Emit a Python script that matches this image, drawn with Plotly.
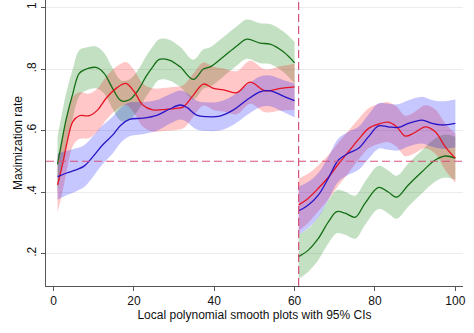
import plotly.graph_objects as go

# ---- data ----
# left segment (before cutoff)
green_l_x = [1, 2, 3.1, 4.8, 6.4, 8.1, 10.6, 12.6, 14.7, 16.8, 18.9, 21, 23, 24.7, 26.3, 28.8, 31.5, 34.8, 37.3, 39, 42.3, 45.6, 48.1, 51.4, 53.9, 57.2, 60]
green_l_y = [.49, .56, .634, .72, .786, .80, .805, .786, .737, .697, .70, .73, .775, .807, .831, .829, .807, .766, .80, .807, .84, .875, .897, .884, .881, .856, .82]
green_l_h = [.09, .088, .085, .08, .075, .07, .068, .066, .066, .066, .066, .066, .066, .066, .066, .066, .065, .064, .064, .064, .064, .064, .064, .065, .065, .066, .068]

red_l_x = [1, 2.3, 3.5, 4.8, 6.4, 8.9, 11, 13.1, 15.6, 18, 20.1, 22.2, 24.7, 28, 30.5, 32.3, 34.8, 37.3, 39.8, 42.3, 45.6, 48.9, 52.7, 56.4, 60]
red_l_y = [.423, .493, .569, .629, .648, .648, .667, .705, .737, .753, .726, .683, .667, .669, .672, .677, .715, .751, .737, .732, .723, .757, .729, .737, .742]
red_l_h = [.09, .088, .085, .08, .076, .072, .07, .07, .07, .07, .07, .07, .07, .07, .07, .07, .07, .07, .07, .07, .07, .07, .07, .072, .075]

blue_l_x = [1, 3.1, 5.6, 7.7, 9.8, 12.2, 14.7, 16.8, 18.9, 22.2, 25.5, 28.8, 31.5, 33.2, 35.6, 38.1, 41.4, 44.8, 48.1, 51.4, 53.9, 57.2, 60]
blue_l_y = [.45, .461, .472, .485, .515, .553, .585, .618, .636, .64, .648, .669, .683, .675, .65, .645, .647, .667, .699, .726, .729, .712, .697]
blue_l_h = [.075, .072, .07, .068, .066, .063, .06, .057, .055, .052, .05, .048, .047, .047, .047, .047, .047, .048, .049, .05, .05, .052, .055]

# right segment (after cutoff)
green_r_x = [61, 63.4, 65.9, 68.4, 70.5, 72.6, 75.1, 77.5, 80.9, 83.3, 85.4, 88.3, 91.7, 95, 97.5, 100]
green_r_y = [.19, .211, .249, .303, .336, .331, .318, .363, .415, .40, .383, .423, .466, .504, .517, .51]
green_r_h = [.072, .07, .07, .07, .07, .07, .07, .07, .07, .07, .07, .07, .07, .07, .07, .07]

red_r_x = [61, 63.4, 65.9, 68.4, 70.9, 73.4, 75.9, 78.4, 80.9, 83.3, 85.4, 87.5, 89.6, 92.5, 95, 97.5, 100]
red_r_y = [.358, .38, .412, .448, .491, .531, .571, .607, .621, .627, .612, .582, .591, .612, .596, .547, .51]
red_r_h = [.085, .08, .075, .072, .07, .068, .066, .065, .065, .065, .065, .066, .067, .07, .072, .076, .08]

blue_r_x = [61, 63.4, 65.9, 68.4, 70.9, 73.4, 75.9, 78.4, 80.9, 83.3, 85.8, 88.3, 91.7, 94.2, 96.6, 100]
blue_r_y = [.339, .358, .39, .445, .504, .526, .542, .58, .615, .612, .61, .623, .634, .623, .618, .623]
blue_r_h = [.078, .075, .072, .07, .07, .07, .07, .072, .074, .075, .075, .075, .076, .076, .077, .078]

cutoff = 61
threshold = 0.5
x_ticks = [0, 20, 40, 60, 80, 100]
y_ticks = [0.2, 0.4, 0.6, 0.8, 1.0]
y_tick_labels = [".2", ".4", ".6", ".8", "1"]

series = [
    ("green", [(green_l_x, green_l_y, green_l_h), (green_r_x, green_r_y, green_r_h)],
     "rgba(34,139,34,0.27)", "rgb(20,110,20)"),
    ("red", [(red_l_x, red_l_y, red_l_h), (red_r_x, red_r_y, red_r_h)],
     "rgba(255,0,0,0.22)", "rgb(230,20,35)"),
    ("blue", [(blue_l_x, blue_l_y, blue_l_h), (blue_r_x, blue_r_y, blue_r_h)],
     "rgba(0,0,255,0.22)", "rgb(40,20,200)"),
]

fig = go.Figure()

# CI bands
for name, segs, fill, line in series:
    for xs, ys, hs in segs:
        lo = [y - h for y, h in zip(ys, hs)]
        hi = [y + h for y, h in zip(ys, hs)]
        fig.add_trace(go.Scatter(x=xs, y=lo, mode="lines", line=dict(width=0, shape="spline"),
                                 hoverinfo="skip", showlegend=False))
        fig.add_trace(go.Scatter(x=xs, y=hi, mode="lines", line=dict(width=0, shape="spline"),
                                 fill="tonexty", fillcolor=fill, hoverinfo="skip", showlegend=False))

# smooth lines
for name, segs, fill, line in series:
    for xs, ys, hs in segs:
        fig.add_trace(go.Scatter(x=xs, y=ys, mode="lines",
                                 line=dict(color=line, width=1.3, shape="spline"),
                                 showlegend=False, name=name))

dash_col = "rgb(214,80,120)"
fig.add_shape(type="line", xref="paper", x0=0, x1=1, yref="y", y0=threshold, y1=threshold,
              line=dict(color=dash_col, width=1.2, dash="8px,4px"), layer="above")
fig.add_shape(type="line", xref="x", x0=cutoff, x1=cutoff, yref="paper", y0=0, y1=1,
              line=dict(color=dash_col, width=1.2, dash="8px,4px"), layer="above")

axis_col = "#555555"
fig.update_layout(
    width=474, height=333,
    margin=dict(l=46, r=11, t=0, b=47),
    paper_bgcolor="white", plot_bgcolor="white",
    showlegend=False,
    font=dict(family="Liberation Sans, Arial, sans-serif", size=12, color="#111111"),
    xaxis=dict(range=[-1.87, 101.9], tickvals=x_ticks, ticks="outside", ticklen=4,
               tickcolor=axis_col, showline=True, linecolor=axis_col, linewidth=1,
               showgrid=False, zeroline=False,
               title=dict(text="Local polynomial smooth plots with 95% CIs", standoff=0,
                          font=dict(size=12))),
    yaxis=dict(range=[0.0943, 1.0244], tickvals=y_ticks, ticktext=y_tick_labels,
               tickangle=-90, ticks="outside", ticklen=4, tickcolor=axis_col,
               showline=True, linecolor=axis_col, linewidth=1,
               showgrid=True, gridcolor="#ececec", gridwidth=1, zeroline=False,
               title=dict(text="Maximization rate", standoff=0, font=dict(size=12))),
)

fig.write_html("out.html")
